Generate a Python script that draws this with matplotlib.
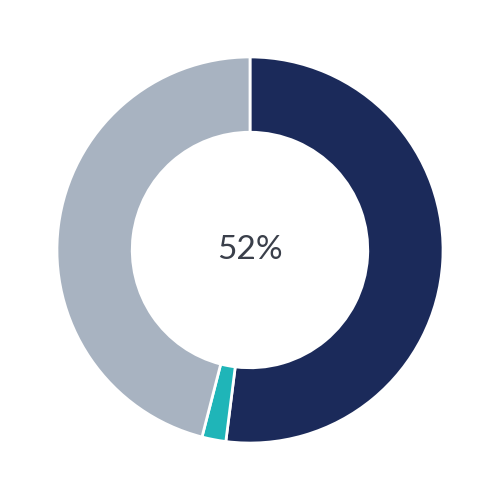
import matplotlib.pyplot as plt

labels = ["Primary", "Secondary", "Other"]
values = [52, 2, 46]
colors = ["#1b2a5a", "#1fb5b8", "#a8b3c1"]
center_label = "52%"

fig = plt.figure(figsize=(5, 5), dpi=100)
ax = fig.add_axes([0, 0, 1, 1])
ax.pie(values, colors=colors, startangle=90, counterclock=False,
       radius=1.0,
       wedgeprops=dict(width=0.39, edgecolor="white", linewidth=2))
ax.text(0, 0, center_label, ha="center", va="center", fontsize=24,
        color="#3a3f4a", family="Lato")
ax.set_xlim(-1.295, 1.295)
ax.set_ylim(-1.295, 1.295)
ax.set_aspect("equal")
ax.axis("off")
fig.savefig("out.png", dpi=100, facecolor="white")
